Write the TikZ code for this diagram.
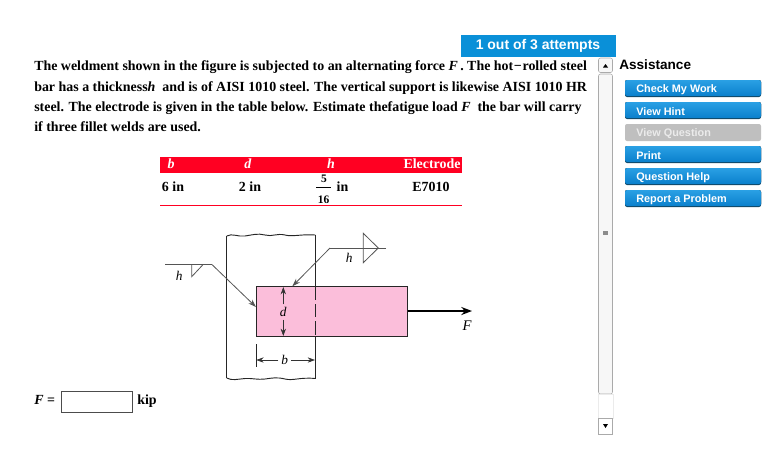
\documentclass[tikz,border=0pt]{standalone}
\usepackage{fontspec}
\setmainfont{Liberation Serif}
\setsansfont{Liberation Sans}
\usetikzlibrary{calc,arrows.meta}
\definecolor{hdrred}{HTML}{FF0022}
\definecolor{barpink}{HTML}{FBBEDA}
\definecolor{tabblue}{HTML}{0A90D8}
\definecolor{btntop}{HTML}{2AA0E4}
\definecolor{btnbot}{HTML}{0A80CC}
\definecolor{btnedge}{HTML}{14506F}
\definecolor{leadgray}{HTML}{555555}
\definecolor{scrollgray}{HTML}{AAAAAA}
\tikzset{
	prose/.style={anchor=base west,inner sep=0pt,font=\bfseries\fontsize{10.45pt}{12pt}\selectfont},
	cell/.style={anchor=base,inner sep=0pt,font=\bfseries\fontsize{10.45pt}{12pt}\selectfont},
	lbl/.style={inner sep=2pt,font=\itshape\fontsize{10pt}{11pt}\selectfont},
	btn/.style={anchor=west,inner sep=0pt,text=white,font=\sffamily\bfseries\fontsize{8.15pt}{10pt}\selectfont},
	lead/.style={draw=leadgray,line width=0.6pt},
	plate/.style={draw=black!85,line width=0.7pt},
	dim/.style={draw=black!80,line width=0.5pt,-{Stealth[length=5.5pt,width=4pt]}},
}
\def\bluebtn(#1)(#2)#3{
	\fill[btnedge,rounded corners=1.5pt] (625, #1) rectangle (761, #1+17);
	\fill[top color=btntop,bottom color=btnbot,rounded corners=1.5pt] (625, #1) rectangle (761, #1+16);
	\node[btn] (#2) at (636, #1+10) {#3};
}
\begin{document}
\begin{tikzpicture}[x=0.75pt,y=-0.75pt]
	\useasboundingbox (0, 0) rectangle (784, 462);
	%%%%% PROSE %%%%%
	\node[prose] (line1) at (34, 70.5) {The weldment shown in the figure is subjected to an alternating force \textit{F}\,. The hot\kern.5pt−\kern.5ptrolled steel};
	\node[prose] (line2) at (34, 91) {bar has a thickness\textit{h}\ \ and is of AISI 1010 steel. The vertical support is likewise AISI 1010 HR};
	\node[prose] (line3) at (34, 111.5) {steel. The electrode is given in the table below. Estimate thefatigue load \textit{F}\ \ the bar will carry};
	\node[prose] (line4) at (34, 131.5) {if three fillet welds are used.};

	%%%%% ATTEMPTS AND SCROLLBAR %%%%%
	\fill[tabblue] (461, 35) rectangle (616, 57);
	\node[anchor=base,inner sep=0pt,text=white,font=\sffamily\bfseries\fontsize{10.5pt}{12pt}\selectfont] (attempts) at (538, 49) {1 out of 3 attempts};

	\draw[scrollgray,fill=black!3,rounded corners=1.5pt] (598.5, 58) rectangle (612.5, 72.5);
	\fill[black] (603, 67.5) -- (605.5, 64) -- (608, 67.5) -- cycle;
	\draw[scrollgray,fill=black!3,rounded corners=1.5pt] (598.5, 74) rectangle (612.5, 394);
	\draw[black!8] (598.5, 394) rectangle (613.5, 418);
	\draw[scrollgray,fill=white] (598.5, 418) rectangle (612.5, 434);
	\fill[black] (603, 424) -- (608, 424) -- (605.5, 428) -- cycle;
	\foreach \gx in {603.5, 604.5, 605.5, 606.5, 607.5}
		\draw[black!45,line width=0.3pt] (\gx, 231) -- (\gx, 235);

	%%%%% ASSISTANCE %%%%%
	\node[anchor=base west,inner sep=0pt,font=\sffamily\bfseries\fontsize{10.2pt}{12pt}\selectfont] (assist) at (619, 69.5) {Assistance};
	\bluebtn(80)(check){Check My Work}
	\bluebtn(102)(hint){View Hint}
	\fill[black!25,rounded corners=1.5pt] (625, 124) rectangle (761, 141);
	\node[btn,text=black!8] (question) at (636, 134) {View Question};
	\bluebtn(146)(print){Print}
	\bluebtn(168)(help){Question Help}
	\bluebtn(190)(report){Report a Problem}

	%%%%% TABLE %%%%%
	\fill[hdrred] (160, 156.5) rectangle (461.5, 172.5);
	\node[cell,text=white] (hb) at (171, 168) {\textit{b}};
	\node[cell,text=white] (hd) at (248, 168) {\textit{d}};
	\node[cell,text=white] (hh) at (331, 168) {\textit{h}};
	\node[cell,text=white] (helec) at (432, 168) {Electrode};
	\node[cell] (vb) at (173, 191.5) {6 in};
	\node[cell] (vd) at (250, 191.5) {2 in};
	\node[cell,font=\bfseries\fontsize{8.6pt}{10pt}\selectfont] (five) at (324, 182) {5};
	\draw[black,line width=0.6pt] (316, 187.5) -- (331, 187.5);
	\node[cell,font=\bfseries\fontsize{8.6pt}{10pt}\selectfont] (sixteen) at (323.5, 203) {16};
	\node[cell] (vh) at (342.5, 191.5) {in};
	\node[cell] (velec) at (431, 191.5) {E7010};
	\fill[hdrred] (160, 204.5) rectangle (461.5, 206);

	%%%%% WELDMENT %%%%%
	\fill[barpink] (256.3, 286.7) rectangle (407.7, 336.3);
	\draw[plate] (226.7, 236) .. controls (232, 233) and (238, 237) .. (245, 236) .. controls (252, 235) and (258, 233) .. (265, 235) .. controls (272, 237) and (277, 233) .. (285, 235) .. controls (293, 237) and (300, 234) .. (315.3, 235);
	\draw[plate] (226.7, 378) .. controls (232, 381) and (238, 379) .. (245, 378.5) .. controls (252, 378) and (258, 380) .. (265, 379) .. controls (272, 378) and (277, 377) .. (285, 379) .. controls (293, 381) and (300, 377) .. (315.3, 378.5);
	\draw[plate] (226.7, 236) -- (226.7, 378);
	\draw[plate] (315.3, 235) -- (315.3, 286.7);
	\draw[plate] (315.3, 336.3) -- (315.3, 378.5);
	\draw[plate,dash pattern=on 10pt off 3pt] (315.3, 286.7) -- (315.3, 336.3);
	\draw[plate,line width=0.9pt] (256.3, 286.7) rectangle (407.7, 336.3);

	\coordinate (dtop) at (283.3, 287);
	\coordinate (dbot) at (283.3, 336);
	\node[lbl] (dlabel) at (283.3, 312) {d};
	\draw[dim] (dlabel) -- (dtop);
	\draw[dim] (dlabel) -- (dbot);

	\coordinate (btick) at (256.3, 360);
	\coordinate (bright) at (315, 360);
	\node[lbl] (blabel) at (284.7, 360) {b};
	\draw[plate,line width=0.5pt] (256.3, 344) -- (256.3, 367);
	\draw[dim] (blabel) -- (btick);
	\draw[dim] (blabel) -- (bright);

	\coordinate (pull) at (407.7, 311);
	\coordinate (pullend) at (472, 311);
	\node[lbl,font=\itshape\fontsize{11pt}{12pt}\selectfont] (flabel) at (467, 326) {F};
	\draw[black,line width=1.4pt,-{Stealth[length=8pt,width=6pt]}] (pull) -- (pullend);

	\coordinate (lstart) at (165, 264.3);
	\coordinate (lbend) at (211.7, 264.3);
	\coordinate (ltip) at (256, 307);
	\node[lbl] (lh) at (179.3, 275.7) {h};
	\draw[lead] (lstart) -- (lbend);
	\draw[lead,-{Stealth[length=6pt,width=4pt]}] (lbend) -- (ltip);
	\draw[lead] (191.7, 264.3) -- (191.7, 276.7) -- (203.3, 264.3);

	\coordinate (rstart) at (386, 248);
	\coordinate (rbend) at (330, 248);
	\coordinate (rtip) at (292.3, 286.3);
	\node[lbl] (rh) at (349.3, 258.3) {h};
	\draw[lead] (rstart) -- (rbend);
	\draw[lead,-{Stealth[length=6pt,width=4pt]}] (rbend) -- (rtip);
	\draw[lead] (363.3, 233.3) -- (378.3, 248) -- (363.3, 262.7) -- cycle;

	%%%%% ANSWER %%%%%
	\node[prose] (fans) at (34, 404.5) {\textit{F}\ =};
	\draw[black!70,fill=white] (61, 391.5) rectangle (132, 412.5);
	\node[prose] (kip) at (137, 404.5) {kip};
\end{tikzpicture}
\end{document}
